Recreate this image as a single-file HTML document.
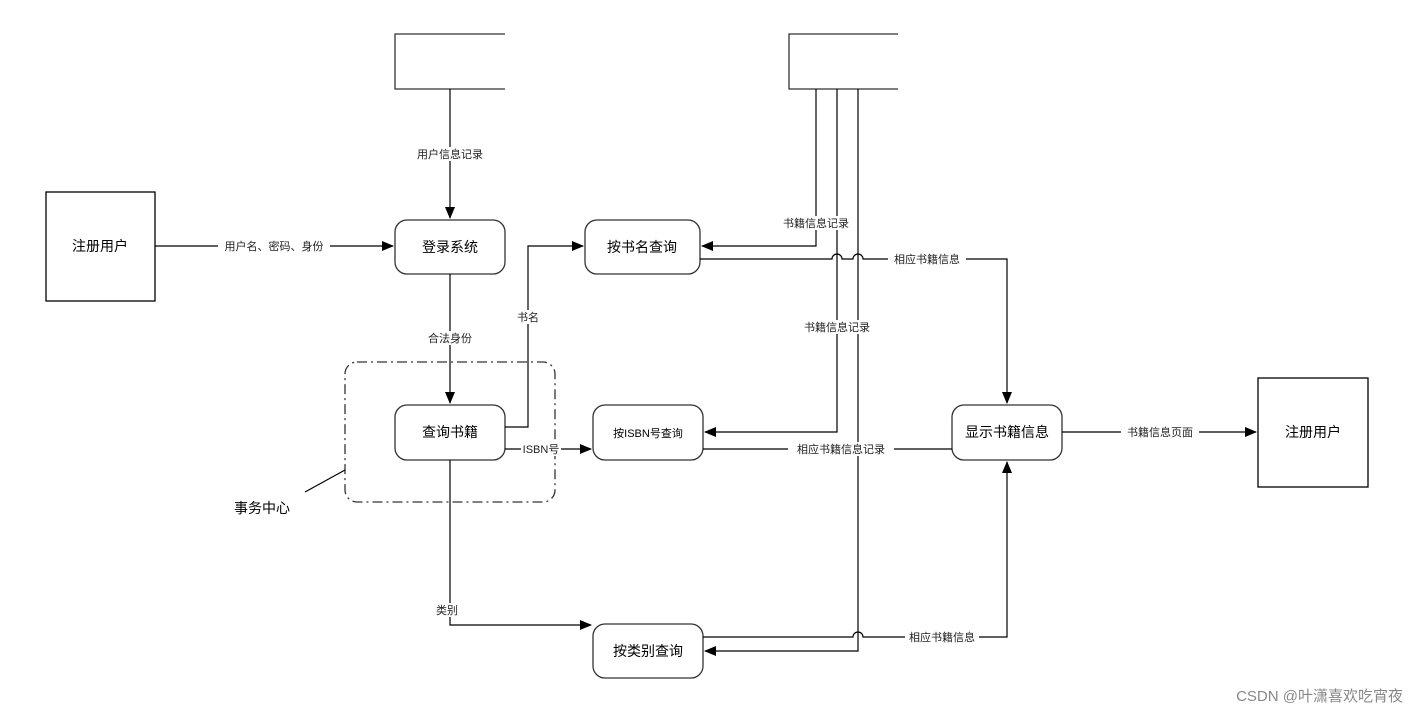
<!DOCTYPE html>
<html><head><meta charset="utf-8"><style>
body{margin:0;background:#fff;}
svg text{font-family:"Liberation Sans","Noto Sans CJK SC",sans-serif;}
</style></head><body>
<svg width="1418" height="714" xmlns="http://www.w3.org/2000/svg">
<defs><marker id="a" markerWidth="12" markerHeight="10" refX="11" refY="5" orient="auto" markerUnits="userSpaceOnUse"><path d="M0,0 L12,5 L0,10 z" fill="#000"/></marker></defs>
<g fill="none" stroke="#333" stroke-width="1.3">
<path d="M505,34 H395 V89 H505"/>
<path d="M898,34 H789 V89 H898"/>
<rect x="46" y="192" width="109" height="109" stroke="#000"/>
<rect x="1258" y="378" width="110" height="109" stroke="#000"/>
<rect x="395" y="220" width="110" height="54" rx="12"/>
<rect x="585" y="220" width="115" height="54" rx="12"/>
<rect x="395" y="405" width="110" height="55" rx="12"/>
<rect x="593" y="405" width="110" height="55" rx="12"/>
<rect x="952" y="405" width="110" height="55" rx="12"/>
<rect x="593" y="624" width="110" height="54" rx="12"/>
<rect x="345" y="362" width="210" height="140" rx="12" stroke-dasharray="10,4,2,4"/>
</g>
<g fill="none" stroke="#000" stroke-width="1.2">
<path d="M450,89 V218" marker-end="url(#a)"/>
<path d="M155,246 H393" marker-end="url(#a)"/>
<path d="M450,274 V403" marker-end="url(#a)"/>
<path d="M505,427 H528 V246 H583" marker-end="url(#a)"/>
<path d="M505,449 H591" marker-end="url(#a)"/>
<path d="M450,460 V625 H591" marker-end="url(#a)"/>
<path d="M816,89 V246 H702" marker-end="url(#a)"/>
<path d="M837,89 V432 H705" marker-end="url(#a)"/>
<path d="M858,89 V651 H705" marker-end="url(#a)"/>
<path d="M700,259 H832 a5,5 0 0 1 10,0 H853 a5,5 0 0 1 10,0 H1007 V403" marker-end="url(#a)"/>
<path d="M703,449 H952"/>
<path d="M703,637 H853 a5,5 0 0 1 10,0 H1007 V462" marker-end="url(#a)"/>
<path d="M1062,432 H1256" marker-end="url(#a)"/>
<path d="M305,492 L345,470"/>
</g>
<g font-size="11" fill="#222" text-anchor="middle">
<rect x="410" y="147" width="80" height="14" fill="#fff"/><text x="450" y="158">用户信息记录</text>
<rect x="218" y="239" width="112" height="14" fill="#fff"/><text x="274" y="250">用户名、密码、身份</text>
<rect x="420" y="331" width="60" height="14" fill="#fff"/><text x="450" y="342">合法身份</text>
<rect x="514" y="310" width="28" height="14" fill="#fff"/><text x="528" y="321">书名</text>
<rect x="521" y="442" width="40" height="14" fill="#fff"/><text x="541" y="453">ISBN号</text>
<rect x="432" y="603" width="30" height="14" fill="#fff"/><text x="447" y="614">类别</text>
<rect x="778" y="216" width="76" height="14" fill="#fff"/><text x="816" y="227">书籍信息记录</text>
<rect x="798" y="320" width="78" height="14" fill="#fff"/><text x="837" y="331">书籍信息记录</text>
<rect x="888" y="252" width="78" height="14" fill="#fff"/><text x="927" y="263">相应书籍信息</text>
<rect x="788" y="442" width="106" height="14" fill="#fff"/><text x="841" y="453">相应书籍信息记录</text>
<rect x="905" y="630" width="74" height="14" fill="#fff"/><text x="942" y="641">相应书籍信息</text>
<rect x="1121" y="425" width="78" height="14" fill="#fff"/><text x="1160" y="436">书籍信息页面</text>
</g>
<g font-size="14" fill="#000" text-anchor="middle">
<text x="100" y="251">注册用户</text>
<text x="1313" y="437">注册用户</text>
<text x="450" y="252">登录系统</text>
<text x="642" y="252">按书名查询</text>
<text x="450" y="437">查询书籍</text>
<text x="648" y="437" font-size="11">按ISBN号查询</text>
<text x="1007" y="437">显示书籍信息</text>
<text x="648" y="656">按类别查询</text>
<text x="262" y="513">事务中心</text>
</g>
<text x="1403" y="701" font-size="15" fill="#888" text-anchor="end">CSDN @叶潇喜欢吃宵夜</text>
</svg>
</body></html>
